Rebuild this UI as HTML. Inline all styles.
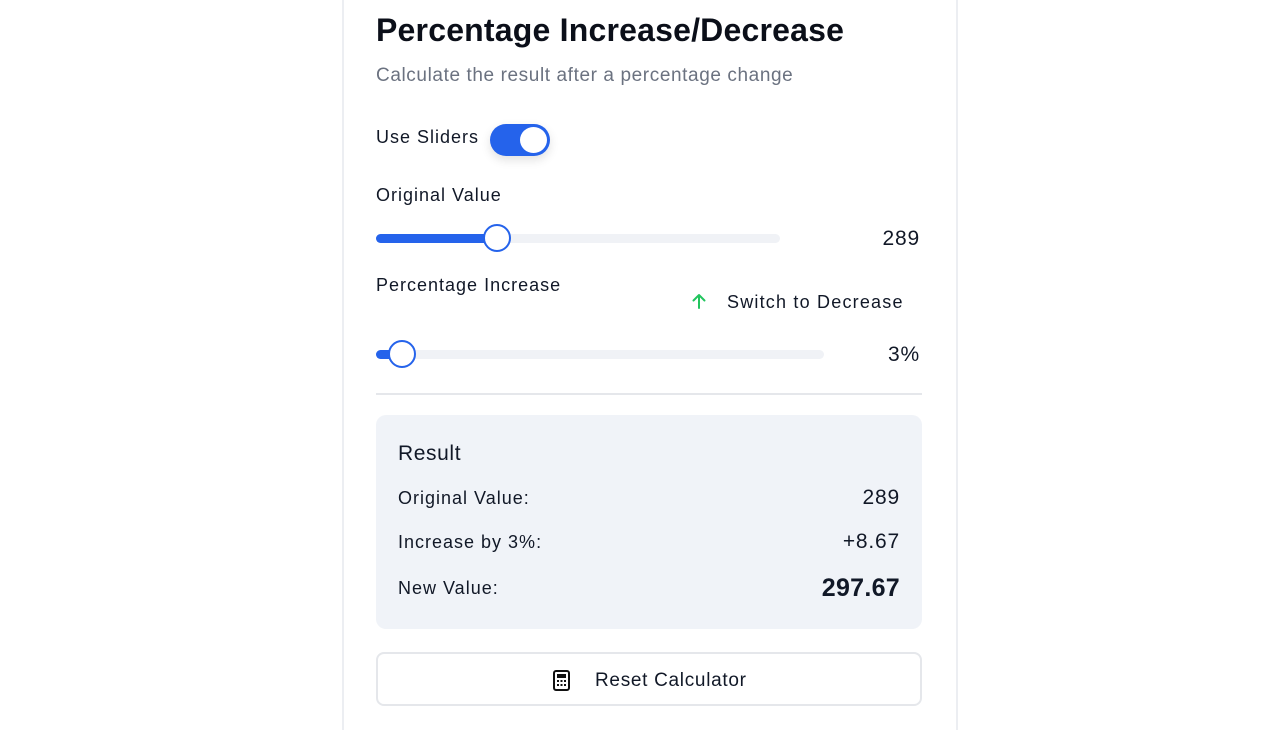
<!DOCTYPE html>
<html><head><style>
*{margin:0;padding:0;box-sizing:border-box}
body{width:1280px;height:720px;background:#fff;font-family:"Liberation Sans",sans-serif;color:#111827;position:relative;overflow:hidden}
.a{position:absolute;white-space:nowrap}
.card{position:absolute;left:342px;top:-10px;width:616px;height:740px;border-left:2px solid #eceef2;border-right:2px solid #eceef2}
.track{position:absolute;height:9px;border-radius:5px;background:#f0f2f6}
.fill{position:absolute;height:9px;border-radius:5px;background:#2563eb}
.thumb{position:absolute;width:28px;height:28px;border-radius:50%;background:#fff;border:2px solid #2563eb}
.lbl{font-size:18px;color:#111827;letter-spacing:1px}
</style></head><body>
<div class="card"></div>
<div class="a" style="left:376px;top:12px;font-size:32px;font-weight:bold;letter-spacing:0.2px;color:#0b0f19">Percentage Increase/Decrease</div>
<div class="a" style="left:376px;top:65px;font-size:19px;letter-spacing:0.6px;color:#6b7280">Calculate the result after a percentage change</div>
<div class="a lbl" style="left:376px;top:127px">Use Sliders</div>
<div class="a" style="left:490px;top:124px;width:60px;height:32px;border-radius:16px;background:#2563eb;box-shadow:0 4px 10px rgba(0,0,0,0.12)"></div>
<div class="a" style="left:520px;top:127px;width:27px;height:26px;border-radius:50%;background:#fff"></div>
<div class="a lbl" style="left:376px;top:185px">Original Value</div>
<div class="track" style="left:376px;top:234px;width:404px"></div>
<div class="fill" style="left:376px;top:234px;width:122px"></div>
<div class="thumb" style="left:483px;top:224px"></div>
<div class="a" style="left:838px;top:227px;width:82px;text-align:right;font-size:21px;letter-spacing:0.8px">289</div>
<div class="a lbl" style="left:376px;top:275px">Percentage Increase</div>
<svg class="a" style="left:691px;top:293px" width="16" height="16" viewBox="0 0 16 16"><path d="M8 15V2M2.5 7.5L8 2l5.5 5.5" fill="none" stroke="#22c55e" stroke-width="2" stroke-linecap="round" stroke-linejoin="round"/></svg>
<div class="a lbl" style="left:727px;top:292px;letter-spacing:1.2px">Switch to Decrease</div>
<div class="track" style="left:376px;top:350px;width:448px"></div>
<div class="fill" style="left:376px;top:350px;width:26px"></div>
<div class="thumb" style="left:388px;top:340px"></div>
<div class="a" style="left:838px;top:343px;width:82px;text-align:right;font-size:21px;letter-spacing:0.8px">3%</div>
<div class="a" style="left:376px;top:393px;width:546px;height:2px;background:#e5e7eb"></div>
<div class="a" style="left:376px;top:415px;width:546px;height:214px;border-radius:10px;background:#f0f3f8"></div>
<div class="a" style="left:398px;top:442px;font-size:21px;letter-spacing:0.6px">Result</div>
<div class="a lbl" style="left:398px;top:488px">Original Value:</div>
<div class="a" style="left:760px;top:486px;width:140px;text-align:right;font-size:21px;letter-spacing:0.8px">289</div>
<div class="a lbl" style="left:398px;top:532px">Increase by 3%:</div>
<div class="a" style="left:760px;top:530px;width:140px;text-align:right;font-size:21px;letter-spacing:0.8px">+8.67</div>
<div class="a lbl" style="left:398px;top:578px">New Value:</div>
<div class="a" style="left:740px;top:574px;width:160px;text-align:right;font-size:25px;font-weight:bold;letter-spacing:0.3px">297.67</div>
<div class="a" style="left:376px;top:652px;width:546px;height:54px;border:2px solid #e5e7eb;border-radius:8px"></div>
<svg class="a" style="left:553px;top:670px" width="17" height="21" viewBox="0 0 17 21"><rect x="1" y="1" width="15" height="19" rx="2" fill="none" stroke="#111" stroke-width="2"/><rect x="4" y="4" width="9" height="4" fill="#111"/><g fill="#111"><rect x="4" y="10" width="2" height="2"/><rect x="7.5" y="10" width="2" height="2"/><rect x="11" y="10" width="2" height="2"/><rect x="4" y="14" width="2" height="2"/><rect x="7.5" y="14" width="2" height="2"/><rect x="11" y="14" width="2" height="2"/></g></svg>
<div class="a" style="left:595px;top:670px;font-size:19px;letter-spacing:0.7px">Reset Calculator</div>
</body></html>
